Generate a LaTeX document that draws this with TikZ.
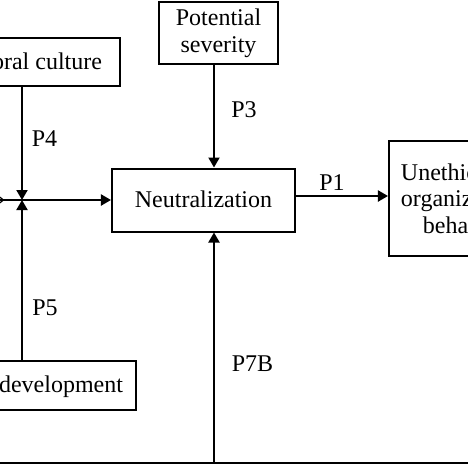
\documentclass[tikz,border=0pt]{standalone}
\usepackage{fontspec}
\setmainfont{Liberation Serif}
\usetikzlibrary{arrows.meta}
\begin{document}
\begin{tikzpicture}[x=0.5pt,y=-0.5pt,
  txt/.style={font=\fontsize{12}{13.3}\selectfont},
  box/.style={txt,draw,line width=1pt,inner ysep=0pt},
  onebox/.style={box,text height=9.5pt,text depth=2.5pt},
  lbl/.style={txt,inner sep=0pt},
  arr/.style={line width=1pt,-{Triangle[length=5pt,width=5.5pt]}},
  ln/.style={line width=1pt}]
\useasboundingbox (0,0) rectangle (468,468);
\clip (0,0) rectangle (468,468);
% boxes
\node[box,align=center,minimum width=59.5pt,minimum height=31pt] (ps) at (218.5,33) {Potential\\severity};
\node[onebox,anchor=east,inner xsep=9pt,minimum height=24pt] (mc) at (121,62) {Moral culture};
\node[onebox,minimum width=91.5pt,minimum height=31.5pt] (neu) at (203.5,200) {Neutralization};
\node[box,anchor=west,align=left,inner xsep=6pt,minimum height=57.5pt,
      font=\fontsize{12}{13.25}\selectfont] (upb) at (388,198.5) {Unethical pro-\\organizational\\\hspace*{11pt}behavior};
\node[onebox,anchor=east,inner xsep=6.5pt,minimum height=24.5pt] (md) at (137,385) {Moral development};
% coordinates
\coordinate (jn) at (22,200);
\coordinate (lft) at (-40,200);
\coordinate (cx) at (214,0);
\coordinate (bl) at (-40,463);
\coordinate (br) at (520,463);
\coordinate (p1y) at (0,196);
% connectors
\draw[arr] (mc.south -| jn) -- (jn);
\draw[arr] (md.north -| jn) -- (jn);
\draw[arr] (lft) -- (neu.west);
\draw[line width=0.6pt] (-1,196.5) -- (3.5,200) -- (-1,203.5);
\draw[arr] (cx |- ps.south) -- (cx |- neu.north);
\draw[ln] (bl) -- (br);
\draw[arr] (cx |- bl) -- (cx |- neu.south);
\draw[arr] (neu.east |- p1y) -- (upb.west |- p1y);
% labels
\node[lbl] (l4) at (44.5,138.5) {P4};
\node[lbl] (l3) at (244,110) {P3};
\node[lbl] (l1) at (332,183) {P1};
\node[lbl] (l5) at (45,308) {P5};
\node[lbl] (l7) at (252.5,364) {P7B};
\end{tikzpicture}
\end{document}
